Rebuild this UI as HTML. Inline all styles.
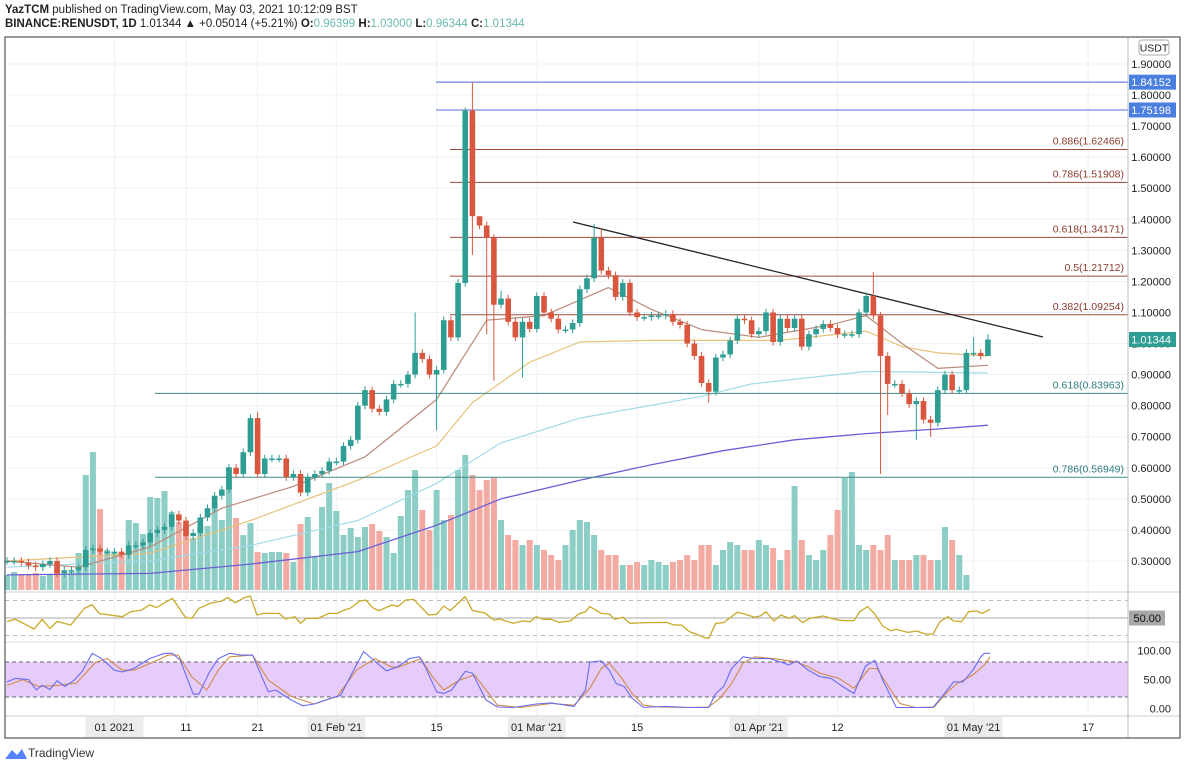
<!DOCTYPE html>
<html><head><meta charset="utf-8"><style>
html,body{margin:0;padding:0;background:#fff;width:1186px;height:768px;overflow:hidden}
svg{display:block;font-family:"Liberation Sans",sans-serif}
</style></head><body>
<svg id="c" width="1186" height="768" viewBox="0 0 1186 768">
<text x="5" y="13" font-size="11.5" fill="#222"><tspan font-weight="bold">YazTCM</tspan> published on TradingView.com, May 03, 2021 10:12:09 BST</text>
<text x="5" y="27" font-size="11.5" fill="#222"><tspan font-weight="bold">BINANCE:RENUSDT, 1D</tspan> 1.01344 ▲ +0.05014 (+5.21%) <tspan font-weight="bold">O:</tspan><tspan fill="#6bb9b0">0.96399</tspan> <tspan font-weight="bold">H:</tspan><tspan fill="#6bb9b0">1.03000</tspan> <tspan font-weight="bold">L:</tspan><tspan fill="#6bb9b0">0.96344</tspan> <tspan font-weight="bold">C:</tspan><tspan fill="#6bb9b0">1.01344</tspan></text>
<g id="grid"></g>
<g id="vol"></g>
<g id="ma"></g>
<g id="lines"></g>
<g id="candles"></g>
<g id="ind"></g>
<g id="axis"></g>
<rect x="5" y="37" width="1175" height="701" fill="none" stroke="#555" stroke-width="1.2"/>
<g>
<path d="M5 759 L12 750 L17 755 L22 749 L27 759 Z" fill="#2962ff" opacity="0.8"/>
<text x="28" y="757" font-size="12" fill="#333">TradingView</text>
</g>
</svg>
<script>
const closes=[0.30,0.30,0.295,0.285,0.28,0.29,0.30,0.26,0.27,0.27,0.28,
0.335,0.34,0.33,0.33,0.33,0.32,0.35,0.35,0.36,0.39,0.40,0.41,0.45,0.43,0.38,0.39,0.44,0.47,0.51,0.53,0.60,0.58,0.65,0.76,0.58,0.63,0.63,0.63,0.57,0.58,0.52,0.57,0.58,0.59,0.62,0.62,0.67,0.69,0.80,0.85,0.79,0.78,0.82,0.87,0.87,0.90,
0.97,0.95,0.90,0.915,1.075,1.02,1.195,1.75,1.41,1.38,1.34,1.125,1.145,1.07,1.02,1.07,1.047,1.153,1.10,1.08,1.045,1.045,1.066,1.175,1.21,1.34,1.235,1.22,1.15,1.195,1.10,1.085,1.085,1.09,1.09,1.095,1.07,1.06,1.0,0.96,0.873,0.845,0.955,0.965,1.01,1.08,1.075,1.03,1.04,1.10,1.005,1.08,1.05,1.08,0.99,1.03,1.047,1.063,1.05,1.03,1.03,1.03,1.10,1.153,1.09,0.96,0.87,0.87,0.84,0.805,0.815,0.755,0.745,0.85,0.90,0.85,0.85,0.97,0.97,0.96,1.013];
const wickHiIdx=[35,57,64,65,66,69,82,83,121,135,137];
const wickHiVal=[0.78,1.10,1.76,1.84,1.40,1.17,1.385,1.37,1.23,1.02,1.03];
const wickLoIdx=[60,65,67,68,72,98,122,123,127,129,134,137];
const wickLoVal=[0.72,1.285,1.03,0.88,0.89,0.81,0.58,0.77,0.69,0.70,0.84,0.963];
const volumes=[15,18,16,15,17,14,16,20,15,18,37,
115,138,81,40,38,37,70,67,56,93,92,99,78,68,65,52,65,64,87,70,123,72,55,67,38,37,38,38,37,28,66,73,34,83,107,79,55,62,53,63,66,59,53,37,74,100,
120,80,60,100,70,75,120,135,115,100,110,112,70,55,50,45,50,45,40,35,30,45,60,70,68,55,40,35,35,25,25,28,25,30,28,25,28,30,35,30,45,45,25,40,48,45,40,40,50,45,42,30,40,104,50,35,30,40,55,80,112,118,45,40,45,40,55,30,30,30,35,35,30,30,63,50,35,15];
const ma20Idx=[0,10,20,30,40,50,60,67,75,84,90,97,105,115,120,125,130,137];
const ma20Val=[0.30,0.28,0.345,0.47,0.54,0.635,0.82,1.075,1.09,1.18,1.11,1.045,1.02,1.06,1.09,1.0,0.92,0.93];
const ma50Idx=[0,20,34,49,60,65,73,80,90,100,108,120,125,130,137];
const ma50Val=[0.30,0.325,0.43,0.56,0.67,0.81,0.94,1.005,1.01,1.01,1.01,1.04,0.99,0.97,0.96];
const ma100Idx=[0,20,34,49,60,69,80,97,104,120,137];
const ma100Val=[0.28,0.30,0.35,0.43,0.55,0.68,0.76,0.83,0.87,0.91,0.905];
const ma200Idx=[0,20,34,49,60,69,80,90,100,110,120,130,137];
const ma200Val=[0.255,0.26,0.29,0.33,0.415,0.50,0.56,0.61,0.655,0.69,0.71,0.725,0.737];
const rsiIdx=[0,1.2,3.8,4.9,6,7,8.9,10.8,11.9,12.9,16.1,17.2,18.8,19.9,20.9,23.1,24.9,25.8,26.8,28.4,30,30.8,31.9,33.2,34,34.9,35.9,38,38.9,40.2,41,41.8,43.4,45,46.1,47.1,47.9,49.3,50.1,51.2,52,53.8,54.6,55.7,56.8,58.9,60,61,61.9,64,65,66.7,68,68.8,70.7,72,73.1,73.9,74.9,76,77.1,78.7,79.8,80.8,81.4,83,84.1,84.9,86,87,89.4,92.1,93.2,94.2,95.3,96.4,97.4,98,99,100.1,102,103,104.4,105.2,106,107.1,108.1,109.2,110,111.1,112.1,114,115.6,116.7,118.3,119.1,120.2,121.2,122.3,123.4,124.2,125.8,127.1,128.2,129.3,130.3,131.4,132.2,133.3,134.3,135.4,136.2,137.3];
const rsiVal=[46,48.5,37.4,48.5,38,46,42,61,65,55,51.5,57,59,65,62,72.5,51,49.6,61,66.8,69.4,73.6,67.5,73.6,75,53.4,55.3,55.3,48.9,51.5,44,49.6,49.6,55.3,55.3,59,61,69.4,70.6,61,58.4,65,63,70.6,71.3,53.4,54.2,63.7,58.4,74.4,58.4,56,47.7,48.9,44,46.6,45.8,51.5,48.5,48.5,45,46.6,54.6,57.2,63,55.3,54.6,48.5,50.8,43.9,44.7,45,42,42,34.4,31.3,27.5,26.8,43.9,44.7,56.5,54.6,50.8,52.3,57.2,46.6,53.4,49.6,52.7,44.7,49.6,52.3,48.5,47,47,57.2,63,54.6,40.9,35.5,37,33.6,35.1,31.7,31.3,45.8,51.5,46.6,45.8,57.2,58,55.3,59.9];
const stochKIdx=[0,1.2,3,4.1,4.9,6,7,8.1,9.4,10.5,11.9,13.2,15,16.1,17.7,19.9,22,23.1,24.2,26,26.8,28.2,29.5,31.1,32.7,34.3,36.5,37.5,39.7,41.3,42.9,44.5,46.6,48.2,49.8,52,53,54.6,56.2,57.6,58.4,60,61,62.1,64,65,66.9,68.5,70.7,73.9,76,79.2,80.8,81.4,83,84.1,85.1,86.2,87.3,88.9,90,92.1,95.3,98,99,100.1,101.2,102.8,104.4,106.5,108.1,109.2,110.3,111.9,113.5,115.1,116.7,118.3,119.9,121.2,122.3,124.2,126.9,129.3,130.6,132.2,133.5,134.9,136,136.5,137.3];
const stochKVal=[46,52,50,32,40,33,48,38,49,64,95,86,66,63,69,86,95,95,83,25,25,61,86,95,92,92,29,32,15,5,8,15,23,61,98,75,65,72,86,89,72,29,26,32,64,61,15,3,2,8,10,4,32,80,82,66,43,38,18,2,3,4,2,2,26,38,69,89,86,86,80,75,82,66,55,52,38,26,73,83,49,2,2,2,21,46,46,66,89,95,95];
const stochDIdx=[0,2.2,4.4,7,9.7,12.4,14,16.1,17.7,20.4,22.5,23.9,25.8,27.9,29.5,31.1,34.3,36.5,39.7,42.9,46.1,48.8,51.4,53.6,54.6,57.8,59.4,61,63.2,65.3,66.9,68.5,71.7,76,79.2,81.4,83,84.1,85.7,87.3,88.9,91,94.8,98,99.6,101.2,102.8,104.4,107.1,110.3,111.9,113.5,116.2,118.3,120.4,121.5,123.1,124.7,126.9,129.5,131.1,132.7,134.9,136.5,137.3];
const stochDVal=[40,50,38,40,44,80,86,66,66,80,92,92,55,32,66,89,92,49,21,8,21,66,86,72,71,86,55,32,49,58,32,6,2,9,6,35,69,78,55,26,6,3,2,3,18,43,78,89,86,80,72,61,52,35,69,69,38,9,2,3,26,43,58,75,89];
const priceTicks=[1.9,1.8,1.7,1.6,1.5,1.4,1.3,1.2,1.1,1.0,0.9,0.8,0.7,0.6,0.5,0.4,0.3];
const timeLabels=["01 2021","11","21","01 Feb '21","15","01 Mar '21","15","01 Apr '21","12","01 May '21","17"];
const timeIdx=[15,25,35,46,60,74,88,105,116,135,151];
const fibPrices=[1.62466,1.51908,1.34171,1.21712,1.09254];
const fibLabels=["0.886(1.62466)","0.786(1.51908)","0.618(1.34171)","0.5(1.21712)","0.382(1.09254)"];
const tealPrices=[0.83963,0.56949];
const tealLabels=["0.618(0.83963)","0.786(0.56949)"];
const bluePrices=[1.84152,1.75198];

const NS="http://www.w3.org/2000/svg";
function X(i){return 7+i*7.16;}
function Y(p){return 64+(1.9-p)*310.6;}
function RY(r){return 618-(r-50)*0.875;}
function SY(s){return 708.7-s*0.583;}
function mk(parent,tag,attrs){const e=document.createElementNS(NS,tag);for(const k in attrs)e.setAttribute(k,attrs[k]);document.getElementById(parent).appendChild(e);return e;}
function txt(parent,x,y,s,attrs){const e=mk(parent,'text',Object.assign({x:x,y:y},attrs));e.textContent=s;return e;}

// grid
priceTicks.forEach(p=>{const l=mk('grid','line',{x1:5,x2:1128,y1:Y(p),y2:Y(p),stroke:'#eef1f6','stroke-width':1});

});
timeIdx.forEach(i=>{const l=mk('grid','line',{x1:X(i),x2:X(i),y1:37,y2:716,stroke:'#eef1f6','stroke-width':1});

});

// volume
const VB=590;
volumes.forEach((v,i)=>{const o=i?closes[i-1]:closes[0];const up=closes[i]>=o;
const r=mk('vol','rect',{x:X(i)-3,y:VB-v,width:6,height:v,fill:up?'#8ccdc6':'#f2aaa2'});

});

// MAs
function poly(g,idx,val,fy,color,w,name){let d='';idx.forEach((i,k)=>{d+=(k?'L':'M')+X(i).toFixed(1)+' '+fy(val[k]).toFixed(1);});
const p=mk(g,'path',{d:d,fill:'none',stroke:color,'stroke-width':w,'stroke-linejoin':'round'});

return p;}
poly('ma',ma200Idx,ma200Val,Y,'#6a5fd6',1.3,'ma-200');
poly('ma',ma100Idx,ma100Val,Y,'#9fdbe8',1.2,'ma-100');
poly('ma',ma50Idx,ma50Val,Y,'#e6c27a',1.2,'ma-50');
poly('ma',ma20Idx,ma20Val,Y,'#b98a78',1.2,'ma-20');

// horizontal drawings
bluePrices.forEach(p=>{const l=mk('lines','line',{x1:436,x2:1128,y1:Y(p),y2:Y(p),stroke:'#7b8ee0','stroke-width':1.3});

});
fibPrices.forEach((p,k)=>{const l=mk('lines','line',{x1:450,x2:1128,y1:Y(p),y2:Y(p),stroke:'#9c4a3c','stroke-width':1});


const t=txt('lines',1124,Y(p)-5,fibLabels[k],{'font-size':10.5,fill:'#8b3a2e','text-anchor':'end'});

});
tealPrices.forEach((p,k)=>{const l=mk('lines','line',{x1:155,x2:1128,y1:Y(p),y2:Y(p),stroke:'#3f8a8a','stroke-width':1});


const t=txt('lines',1124,Y(p)-5,tealLabels[k],{'font-size':10.5,fill:'#2f7b7b','text-anchor':'end'});

});
const tl=mk('lines','line',{x1:573,y1:222,x2:1043,y2:337,stroke:'#222','stroke-width':1.3});



// candles
closes.forEach((c,i)=>{const o=i?closes[i-1]:closes[0];const up=c>=o;
let hi=Math.max(o,c)+0.012,lo=Math.min(o,c)-0.012;
const a=wickHiIdx.indexOf(i);if(a>=0)hi=wickHiVal[a];
const b=wickLoIdx.indexOf(i);if(b>=0)lo=wickLoVal[b];
const col=up?'#2e9d93':'#d9573f';
const w=mk('candles','line',{x1:X(i),x2:X(i),y1:Y(hi),y2:Y(lo),stroke:col,'stroke-width':1});


const top=Y(Math.max(o,c)),h=Math.max(1.5,Y(Math.min(o,c))-top);
const r=mk('candles','rect',{x:X(i)-2.8,y:top,width:5.6,height:h,fill:col});

});

// panel separators
[[592,'#ccc'],[642,'#ddd'],[716,'#ccc']].forEach(s=>{const l=mk('ind','line',{x1:5,x2:1180,y1:s[0],y2:s[0],stroke:s[1],'stroke-width':1});

});
// RSI
[[70,'4,4','#bbb'],[30,'4,4','#bbb'],[50,'','#aaa']].forEach(s=>{const l=mk('ind','line',{x1:5,x2:1128,y1:RY(s[0]),y2:RY(s[0]),stroke:s[2],'stroke-dasharray':s[1],'stroke-width':1});

});
poly('ind',rsiIdx,rsiVal,RY,'#c9a92a',1.3,'rsi-line');
// Stoch
const band=mk('ind','rect',{x:5,y:SY(80),width:1123,height:SY(20)-SY(80),fill:'#e5ccfa'});


[80,20].forEach(s=>{const l=mk('ind','line',{x1:5,x2:1128,y1:SY(s),y2:SY(s),stroke:'#666','stroke-dasharray':'4,3','stroke-width':1});

});
poly('ind',stochDIdx,stochDVal,SY,'#d08a4a',1.1,'stoch-d');
poly('ind',stochKIdx,stochKVal,SY,'#6a6df0',1.1,'stoch-k');

// price axis
const sep=mk('axis','line',{x1:1128,x2:1128,y1:37,y2:738,stroke:'#bbb','stroke-width':1});


priceTicks.forEach(p=>{const t=txt('axis',1171,Y(p)+4,p.toFixed(5),{'font-size':11,fill:'#222','text-anchor':'end'});

});
const ub=mk('axis','rect',{x:1139,y:40,width:30,height:15,rx:3,fill:'#fff',stroke:'#aaa'});


txt('axis',1154,51.5,'USDT',{'font-size':10.5,fill:'#222','text-anchor':'middle'});
function badge(p,color,label,name){const r=mk('axis','rect',{x:1129,y:Y(p)-7.5,width:47,height:15,fill:color});


const t=txt('axis',1171,Y(p)+4,label,{'font-size':11,fill:'#fff','text-anchor':'end'});}
badge(bluePrices[0],'#4a7fe0',bluePrices[0].toFixed(5),'level-badge');
badge(bluePrices[1],'#4a7fe0',bluePrices[1].toFixed(5),'level-badge');
badge(closes[closes.length-1],'#2e9d93','1.01344','last-price-badge');
const rb=mk('axis','rect',{x:1129,y:RY(50)-7.5,width:36,height:15,fill:'#a8a8a8'});


txt('axis',1161,RY(50)+4,'50.00',{'font-size':11,fill:'#111','text-anchor':'end'});
[100,50,0].forEach(s=>{const t=txt('axis',1171,SY(s)+4,s.toFixed(2),{'font-size':11,fill:'#222','text-anchor':'end'});

});
// time axis
timeLabels.forEach((s,k)=>{const x=X(timeIdx[k]);const big=s.length>3;
if(big){const r=mk('axis','rect',{x:x-29,y:717,width:58,height:20,fill:'#ececec'});

}
const t=txt('axis',x,731,s,{'font-size':11,fill:'#222','text-anchor':'middle'});

});
</script>
</body></html>
